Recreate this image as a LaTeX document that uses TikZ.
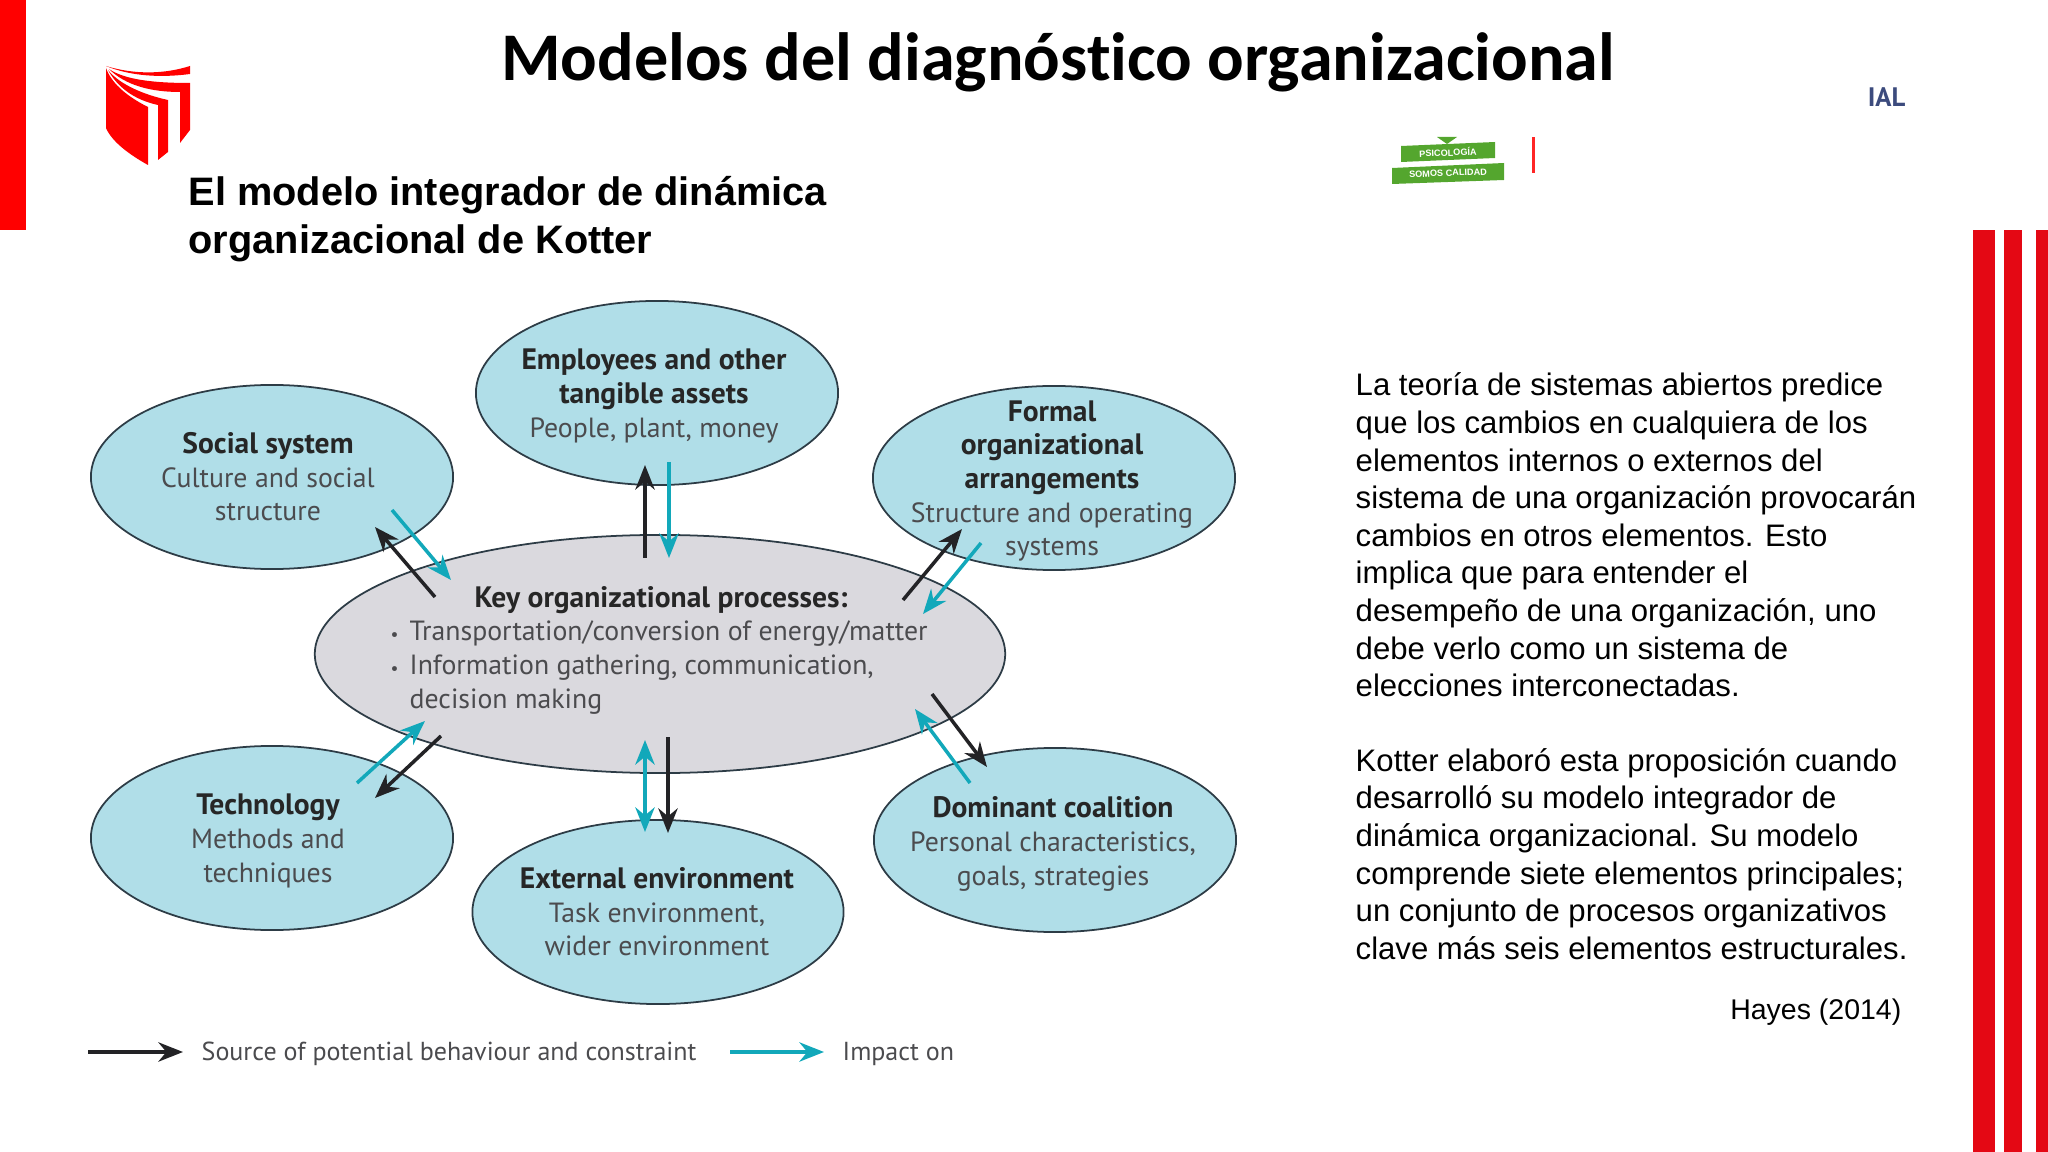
\documentclass[tikz,border=0pt]{standalone}
\usepackage{xcolor}
\usepackage{fontspec}
\setmainfont{Liberation Sans}
\newfontfamily\titlefont[Ligatures=NoCommon]{Carlito}
\newfontfamily\diagfont{PT Sans}
\usetikzlibrary{positioning,shapes,arrows.meta,calc}
\definecolor{bluefill}{RGB}{176,222,232}
\definecolor{grayfill}{RGB}{218,217,222}
\definecolor{inkline}{RGB}{45,60,70}
\definecolor{tealarrow}{RGB}{18,168,186}
\definecolor{darkarrow}{RGB}{35,35,38}
\definecolor{difftext}{RGB}{75,75,78}
\definecolor{barred}{RGB}{228,8,20}
\definecolor{logogreen}{RGB}{84,166,46}
\tikzset{
    bubble/.style={ellipse, draw=inkline, line width=0.5pt, fill=bluefill, minimum width=3.62cm, minimum height=1.84cm, inner sep=0pt},
    bubbletext/.style={inner sep=0pt, align=center, text=difftext, font=\diagfont\fontsize{7.9}{9.55}\selectfont},
    keyline/.style={anchor=west, inner sep=0pt, text=difftext, font=\diagfont\fontsize{7.9}{9.55}\selectfont},
    darkflow/.style={draw=darkarrow, line width=1pt, -{Stealth[length=7pt,width=5.5pt]}},
    tealflow/.style={draw=tealarrow, line width=1pt, -{Stealth[length=7pt,width=5.5pt]}},
    bodytext/.style={anchor=west, inner sep=0pt, align=left, font=\fontsize{8.85}{10.7}\selectfont},
}
\newcommand{\head}[1]{{\bfseries\color{black!85}\fontsize{8.4}{9.55}\selectfont #1}}
\newcommand{\dotmark}{\llap{{\fontsize{5}{5}\selectfont\textbullet}\hspace{3.2pt}}}
\begin{document}
\begin{tikzpicture}[x=0.01cm, y=-0.01cm]
    \useasboundingbox (0,0) rectangle (2048,1152);

    % Side bars
    \fill[red] (0,0) rectangle (25.5,230);
    \foreach \a/\b in {1973/1995,2004/2022,2036/2048} {
        \fill[barred] (\a,230) rectangle (\b,1152);
    }

    % Shield
    \fill[red] (106,66) .. controls (135,75) and (165,74) .. (190,66) -- (190,74) .. controls (160,78) and (130,76) .. cycle;
    \fill[red] (109,69) .. controls (125,80) and (155,83) .. (190,83) -- (190,130) -- (180,143) -- (180,92) .. controls (150,92) and (125,85) .. cycle;
    \fill[red] (108,70) .. controls (120,85) and (145,95) .. (168,100) -- (168,152) -- (158,160) -- (158,105) .. controls (135,100) and (118,88) .. cycle;
    \fill[red] (106,68) .. controls (112,85) and (130,98) .. (148,107) -- (148,165) .. controls (130,155) and (112,142) .. (106,128) -- cycle;

    % Green badge
    \fill[logogreen] (1437,137) -- (1457,137) -- (1447,144) -- cycle;
    \fill[logogreen] (1401,146) -- (1495,142) -- (1495,158) -- (1401,162) -- cycle;
    \fill[logogreen] (1392,168) -- (1504,163) -- (1504,180) -- (1392,184) -- cycle;
    \node[white, inner sep=0pt, rotate=2, font=\bfseries\fontsize{2.6}{3}\selectfont] (badgeone) at (1448,152) {PSICOLOGÍA};
    \node[white, inner sep=0pt, rotate=2, font=\bfseries\fontsize{2.6}{3}\selectfont] (badgetwo) at (1448,173) {SOMOS CALIDAD};
    \fill[red!85!white] (1532,137) rectangle (1535,173);
    \node[inner sep=0pt, anchor=east, text={rgb,255:red,60;green,75;blue,125}, font=\diagfont\bfseries\fontsize{7.6}{9}\selectfont] (cuttext) at (1906,97) {IAL};

    % Headings
    \node[inner sep=0pt, font=\titlefont\bfseries\fontsize{19.4}{23}\selectfont] (title) at (1058,62) {Modelos del diagnóstico organizacional};
    \node[inner sep=0pt, anchor=west, align=left, font=\bfseries\fontsize{11.3}{13.66}\selectfont] (subtitle) at (188,219) {El modelo integrador de dinámica\\organizacional de Kotter};

    % Bubbles
    \node[bubble] (employees) at (657,393) {};
    \node[bubble] (social) at (272,477) {};
    \node[bubble] (formal) at (1054,478) {};
    \node[bubble] (technology) at (272,838) {};
    \node[bubble] (coalition) at (1055,840) {};
    \node[bubble, minimum width=3.71cm] (external) at (658,912) {};

    % Bubble texts
    \node[bubbletext] (employeestext) at (654,396) {\head{Employees and other}\\\head{tangible assets}\\People, plant, money};
    \node[bubbletext] (socialtext) at (268,477) {\head{Social system}\\Culture and social\\structure};
    \node[bubbletext] (formaltext) at (1052,481) {\head{Formal}\\\head{organizational}\\\head{arrangements}\\Structure and operating\\systems};
    \node[bubbletext] (technologytext) at (268,841) {\head{Technology}\\Methods and\\techniques};
    \node[bubbletext] (coalitiontext) at (1053,844) {\head{Dominant coalition}\\Personal characteristics,\\goals, strategies};
    \node[bubbletext] (externaltext) at (657,912) {\head{External environment}\\Task environment,\\wider environment};

    % Centre
    \node[ellipse, draw=inkline, line width=0.5pt, fill=grayfill, minimum width=6.9cm, minimum height=2.38cm, inner sep=0pt] (key) at (660,654) {};
    \node[keyline, anchor=center] (keyhead) at (661,600) {\head{Key organizational processes:}};
    \node[keyline] (keyone) at (409,634) {\dotmark Transportation/conversion of energy/matter};
    \node[keyline] (keytwo) at (409,668) {\dotmark Information gathering, communication,};
    \node[keyline] (keythree) at (409,702) {decision making};

    % Arrow ends
    \foreach \n/\x/\y in {a1/645/558,a2/645/465,b1/669/462,b2/669/558,
        c1/435/597,c2/375/527,d1/392/510,d2/451/580,
        e1/903/600,e2/962/529,f1/981/543,f2/923/614,
        g1/357/783,g2/425/721,h1/441/736,h2/375/798,
        i1/645/740,i2/645/832,j1/668/737,j2/668/833,
        k1/932/694,k2/987/767,l1/970/783,l2/915/709,
        m1/88/1052,m2/183/1052,n1/730/1052,n2/824/1052} {
        \coordinate (\n) at (\x,\y);
    }
    \foreach \p/\q in {a1/a2,c1/c2,e1/e2,h1/h2,j1/j2,k1/k2,m1/m2} {
        \draw[darkflow] (\p) -- (\q);
    }
    \foreach \p/\q in {b1/b2,d1/d2,f1/f2,g1/g2,l1/l2,n1/n2} {
        \draw[tealflow] (\p) -- (\q);
    }
    % Double headed one
    \draw[tealflow, {Stealth[length=7pt,width=5.5pt]}-{Stealth[length=7pt,width=5.5pt]}] (i1) -- (i2);

    % Legend
    \node[keyline, font=\diagfont\fontsize{7.4}{9}\selectfont] (sourcelabel) at (201,1054) {Source of potential behaviour and constraint};
    \node[keyline, font=\diagfont\fontsize{7.4}{9}\selectfont] (impactlabel) at (842,1054) {Impact on};

    % Right column
    \node[bodytext] (parone) at (1355,535) {La teoría de sistemas abiertos predice\\que los cambios en cualquiera de los\\elementos internos o externos del\\sistema de una organización provocarán\\cambios en otros elementos. Esto\\implica que para entender el\\desempeño de una organización, uno\\debe verlo como un sistema de\\elecciones interconectadas.};
    \node[bodytext] (partwo) at (1355,854) {Kotter elaboró esta proposición cuando\\desarrolló su modelo integrador de\\dinámica organizacional. Su modelo\\comprende siete elementos principales;\\un conjunto de procesos organizativos\\clave más seis elementos estructurales.};
    \node[inner sep=0pt, anchor=east, font=\fontsize{8.1}{10}\selectfont] (source) at (1902,1012) {Hayes (2014)};
\end{tikzpicture}
\end{document}
